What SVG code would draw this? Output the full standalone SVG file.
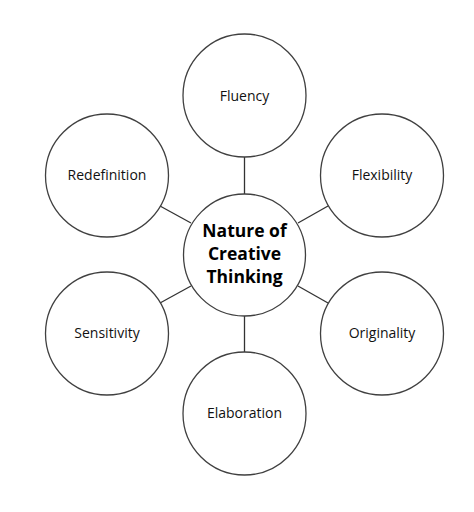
<svg xmlns="http://www.w3.org/2000/svg" width="474" height="512" viewBox="0 0 474 512">
<style>
.node{fill:#fff;stroke:#404040;stroke-width:1.3}
.lbl{font-family:"Open Sans","Liberation Sans",sans-serif;font-size:14px;fill:#111;text-anchor:middle}
.ctr{font-family:"Open Sans","Liberation Sans",sans-serif;font-size:17.5px;font-weight:bold;fill:#000;text-anchor:middle}
.conn line{stroke:#333;stroke-width:1.3}
</style>
<rect width="474" height="512" fill="#fff"/>
<g class="conn">
<line x1="244.5" y1="157" x2="244.5" y2="194"/>
<line x1="244.5" y1="316" x2="244.5" y2="352"/>
<line x1="160" y1="206" x2="191" y2="223"/>
<line x1="160" y1="303" x2="191" y2="286"/>
<line x1="298" y1="223" x2="328" y2="206"/>
<line x1="298" y1="286" x2="328" y2="303"/>
</g>
<g id="center"><circle class="node" cx="244.5" cy="255" r="61"/>
<text class="ctr" x="244.5" y="237">Nature of</text>
<text class="ctr" x="244.5" y="260">Creative</text>
<text class="ctr" x="244.5" y="283">Thinking</text></g>
<g id="fluency"><circle class="node" cx="244.5" cy="95.5" r="61.5"/><text class="lbl" x="244.5" y="100.5">Fluency</text></g>
<g id="flexibility"><circle class="node" cx="382" cy="175.5" r="61.5"/><text class="lbl" x="382" y="180">Flexibility</text></g>
<g id="originality"><circle class="node" cx="382" cy="333.5" r="61.5"/><text class="lbl" x="382" y="338">Originality</text></g>
<g id="elaboration"><circle class="node" cx="244.5" cy="413.5" r="61.5"/><text class="lbl" x="244.5" y="418">Elaboration</text></g>
<g id="sensitivity"><circle class="node" cx="107" cy="333.5" r="61.5"/><text class="lbl" x="107" y="338">Sensitivity</text></g>
<g id="redefinition"><circle class="node" cx="107" cy="175.5" r="61.5"/><text class="lbl" x="107" y="180">Redefinition</text></g>
</svg>
